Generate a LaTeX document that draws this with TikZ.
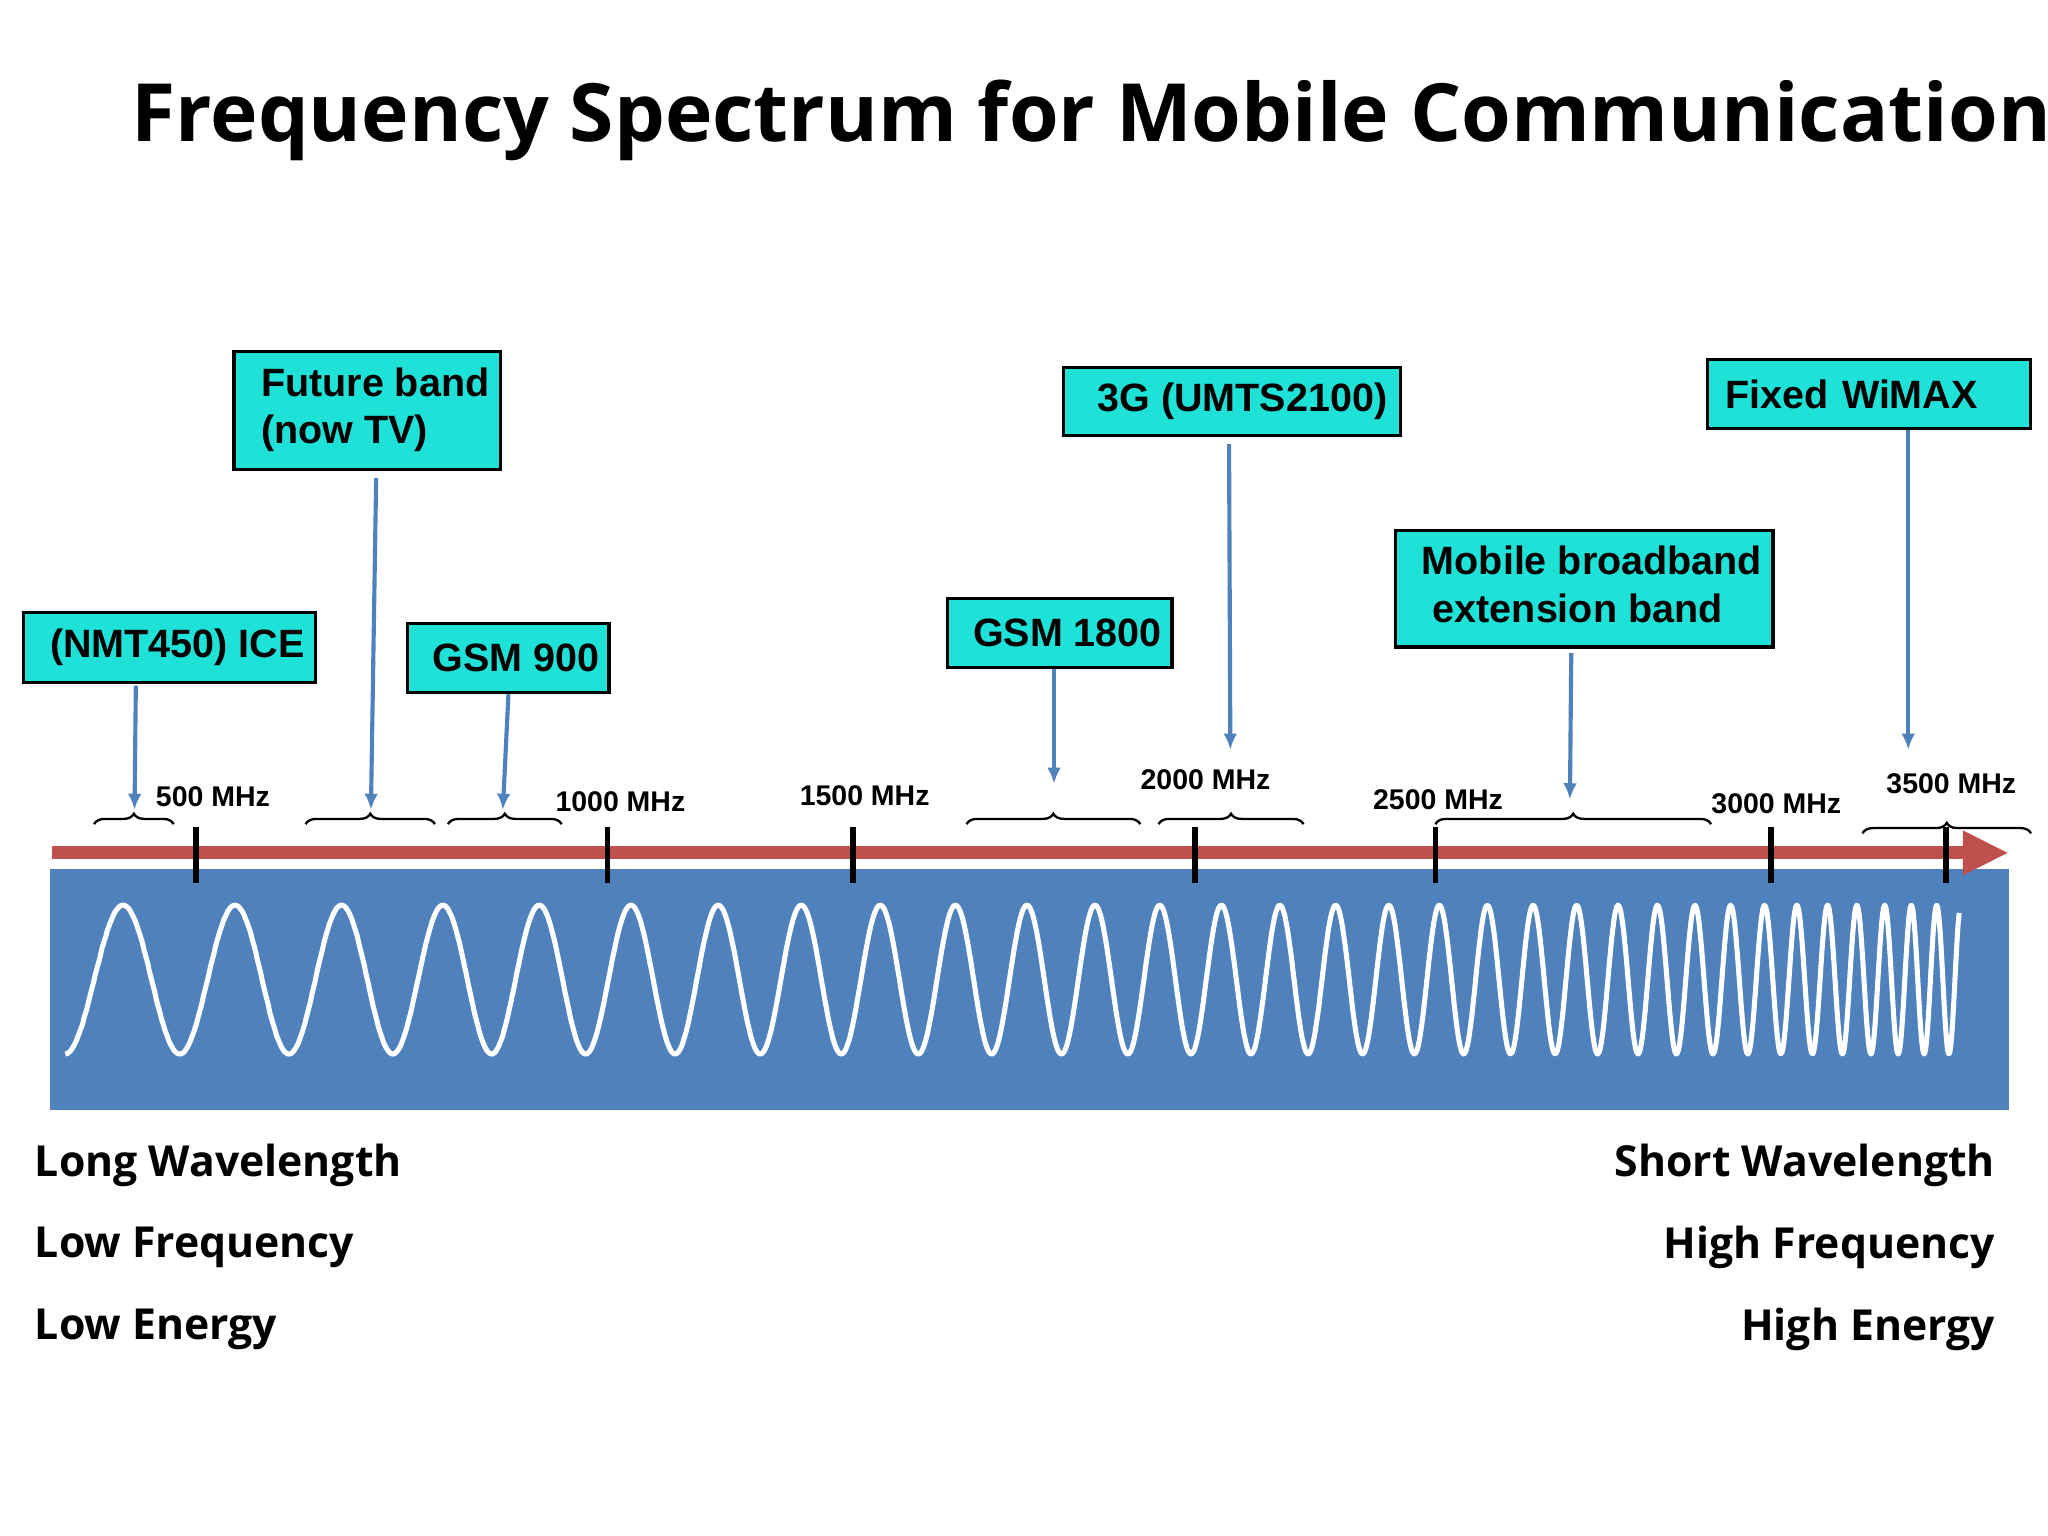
\documentclass[tikz,border=0pt]{standalone}
\usepackage{fontspec}
\setmainfont{Liberation Sans}
\newfontfamily\osans{Open Sans}
\usetikzlibrary{decorations.pathreplacing,arrows.meta}
\definecolor{bandblue}{RGB}{79,129,189}
\definecolor{boxcyan}{RGB}{30,226,216}
\definecolor{axisred}{RGB}{192,80,77}
\begin{document}
\begin{tikzpicture}[x=0.01cm,y=-0.01cm,
  box/.style={draw=black,line width=0.7pt,fill=boxcyan,font=\fontsize{8.6}{10.4}\selectfont\bfseries,align=left,anchor=north west,inner sep=0pt},
  ptr/.style={draw=bandblue,line width=0.9pt,-{Latex[length=3.5pt,width=3pt]}},
  brc/.style={decorate,decoration={brace,amplitude=0.08cm},line width=0.5pt},
  tick/.style={line width=1.2pt,black},
  mhz/.style={font=\fontsize{6.2}{7}\selectfont\bfseries,inner sep=0pt},
  side/.style={font=\osans\fontsize{9.3}{11}\selectfont\bfseries,inner sep=0pt}]
\useasboundingbox (0,0) rectangle (1568,1176);
\node[font=\osans\fontsize{17.5}{20}\selectfont\bfseries,anchor=west,inner sep=0pt] (title) at (100,92) {Frequency Spectrum for Mobile Communication};
% band
\fill[bandblue] (38,665) rectangle (1538,850);
\draw[axisred,line width=2.8pt,-{Triangle[length=10pt,width=9pt]}] (40,653) -- (1538,653);
\foreach \x in {150,465,653,915,1099,1356,1490} \draw[tick] (\x,633) -- (\x,676);
% wave
\draw[white,line width=1.1pt,line join=round] plot[domain=50:1500,samples=1400,smooth] (\x,{750+57*cos(360*(-ln((90-0.0497*(\x-50))/90)/0.0497))});
% MHz labels
\node[mhz] (m1) at (163,610) {500 MHz};
\node[mhz] (m2) at (475,614) {1000 MHz};
\node[mhz] (m3) at (662,609) {1500 MHz};
\node[mhz] (m4) at (923,597) {2000 MHz};
\node[mhz] (m5) at (1101,612) {2500 MHz};
\node[mhz] (m6) at (1360,615) {3000 MHz};
\node[mhz] (m7) at (1494,600) {3500 MHz};
% braces
\draw[brc] (72,631) -- (133,631); \coordinate (b1) at (103,620);
\draw[brc] (234,631) -- (333,631); \coordinate (b2) at (284,620);
\draw[brc] (343,631) -- (430,631); \coordinate (b3) at (385,620);
\draw[brc] (740,631) -- (873,631); \coordinate (b4) at (807,600);
\draw[brc] (887,631) -- (998,631); \coordinate (b5) at (942,574);
\draw[brc] (1099,631) -- (1310,631); \coordinate (b6) at (1202,612);
\draw[brc] (1426,638) -- (1555,638); \coordinate (b7) at (1461,574);
% boxes
\node[box,minimum width=2.23cm,minimum height=0.53cm] (n1) at (17,468) {\hspace{0.12cm}(NMT450) ICE};
\node[box,minimum width=2.04cm,minimum height=0.90cm] (n2) at (178,268) {\hspace{0.12cm}\begin{tabular}{@{}l@{}}Future band\\(now TV)\end{tabular}};
\node[box,minimum width=1.54cm,minimum height=0.53cm] (n3) at (311,476) {\hspace{0.12cm}GSM 900};
\node[box,minimum width=1.72cm,minimum height=0.53cm] (n4) at (724,457) {\hspace{0.12cm}GSM 1800};
\node[box,minimum width=2.58cm,minimum height=0.52cm] (n5) at (813,280) {\hspace{0.16cm}3G (UMTS2100)};
\node[box,minimum width=2.89cm,minimum height=0.89cm] (n6) at (1067,405) {\hspace{0.12cm}\begin{tabular}{@{}l@{}}Mobile broadband\\\ extension band\end{tabular}};
\node[box,minimum width=2.47cm,minimum height=0.53cm,text width=2.47cm] (n7) at (1306,274) {\hspace{0.14cm}Fixed WiMAX};
% pointers
\draw[ptr] (104,525) -- (b1);
\draw[ptr] (288,366) -- (b2);
\draw[ptr] (n3.south) -- (b3);
\draw[ptr] (n4.south-|b4) -- (b4);
\draw[ptr] (941,340) -- (b5);
\draw[ptr] (1203,500) -- (b6);
\draw[ptr] (n7.south-|b7) -- (b7);
% side labels
\node[side,anchor=west] (l1) at (26,892) {Long Wavelength};
\node[side,anchor=west] (l2) at (26,955) {Low Frequency};
\node[side,anchor=west] (l3) at (26,1018) {Low Energy};
\node[side,anchor=east] (r1) at (1528,892) {Short Wavelength};
\node[side,anchor=east] (r2) at (1528,955) {High Frequency};
\node[side,anchor=east] (r3) at (1528,1018) {High Energy};
\end{tikzpicture}
\end{document}
